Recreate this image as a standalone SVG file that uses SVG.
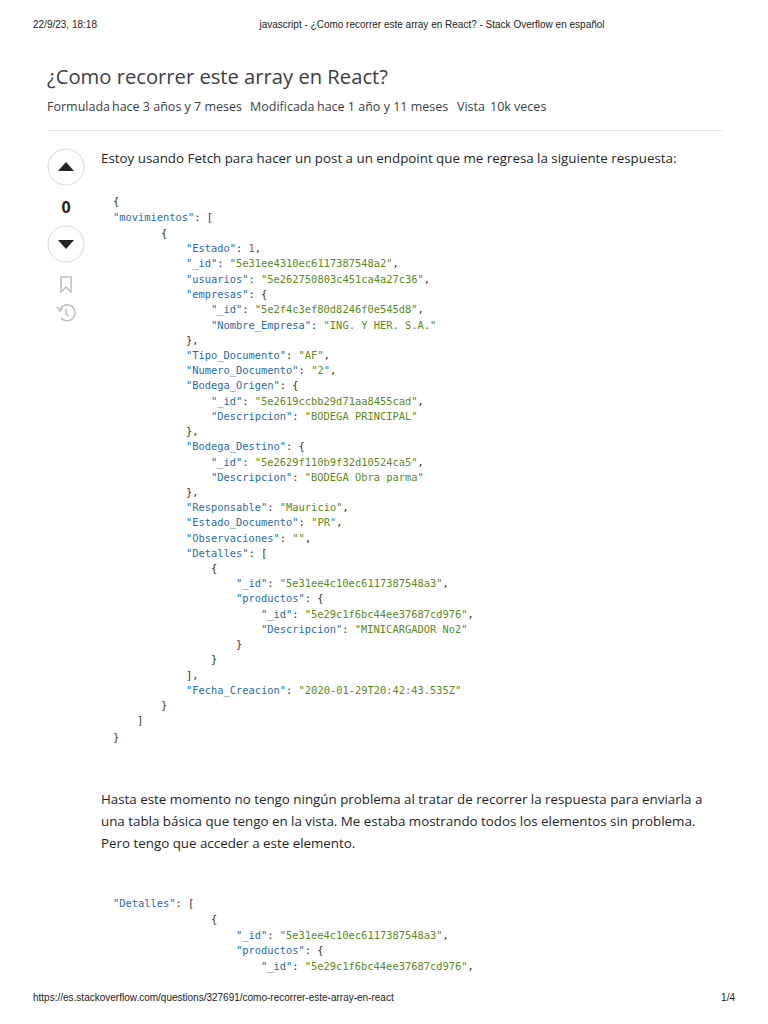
<svg xmlns="http://www.w3.org/2000/svg" width="768" height="1024" viewBox="0 0 768 1024">
<style>
.h{font-family:"Liberation Sans",Arial,sans-serif;font-size:10px;fill:#222}
.t{font-family:"Open Sans","Noto Sans",sans-serif;font-size:20.2px;fill:#3b4045}
.m{font-family:"Open Sans","Noto Sans",sans-serif;font-size:12.5px;fill:#3b4045}
.b{font-family:"Open Sans","Noto Sans",sans-serif;font-size:13.35px;fill:#232629}
.c{font-family:"DejaVu Sans Mono",monospace;font-size:10.4px;fill:#2f3337}
.k{fill:#2b6ba8}.s{fill:#5a8a1c}.n{fill:#b4501e}
.vb{fill:#fff;stroke:#d6d9dc}
.ic{fill:none;stroke:#babfc4;stroke-width:1.5}
</style>
<rect width="768" height="1024" fill="#fff"/>
<text class="h" x="33" y="28">22/9/23, 18:18</text>
<text class="h" x="432" y="28" text-anchor="middle">javascript - ¿Como recorrer este array en React? - Stack Overflow en español</text>
<text class="t" x="47" y="84">¿Como recorrer este array en React?</text>
<g class="m">
<text x="47" y="111">Formulada</text>
<text x="112" y="111">hace 3 años y 7 meses</text>
<text x="250" y="111">Modificada</text>
<text x="317" y="111">hace 1 año y 11 meses</text>
<text x="457" y="111">Vista</text>
<text x="490" y="111">10k veces</text>
</g>
<line x1="47" y1="130.5" x2="722" y2="130.5" stroke="#e3e6e8"/>
<g id="vote">
<circle class="vb" cx="66" cy="167" r="18"/>
<path d="M58 171 L66 162 L74 171 Z" fill="#232629"/>
<text x="66" y="213" text-anchor="middle" font-family="Open Sans,Noto Sans,sans-serif" font-size="16" font-weight="bold" fill="#232629">0</text>
<circle class="vb" cx="66" cy="244" r="18"/>
<path d="M58 240 L66 249 L74 240 Z" fill="#232629"/>
<path class="ic" d="M61 277 V292 L66 287 L71 292 V277 Z"/>
<path class="ic" d="M60 309 A8 8 0 1 1 61 318 M57 307 L60 311 L63 308 M66 309 V314 L69 316"/>
</g>
<text class="b" x="101" y="163">Estoy usando Fetch para hacer un post a un endpoint que me regresa la siguiente respuesta:</text>
<g class="c">
<text x="113" y="205">{</text>
<text x="113" y="221"><tspan class="k">"movimientos"</tspan>: [</text>
<text x="161" y="237">{</text>
<text x="186" y="252"><tspan class="k">"Estado"</tspan>: <tspan class="n">1</tspan>,</text>
<text x="186" y="267"><tspan class="k">"_id"</tspan>: <tspan class="s">"5e31ee4310ec6117387548a2"</tspan>,</text>
<text x="186" y="283"><tspan class="k">"usuarios"</tspan>: <tspan class="s">"5e262750803c451ca4a27c36"</tspan>,</text>
<text x="186" y="298"><tspan class="k">"empresas"</tspan>: {</text>
<text x="211" y="313"><tspan class="k">"_id"</tspan>: <tspan class="s">"5e2f4c3ef80d8246f0e545d8"</tspan>,</text>
<text x="211" y="329"><tspan class="k">"Nombre_Empresa"</tspan>: <tspan class="s">"ING. Y HER. S.A."</tspan></text>
<text x="186" y="344">},</text>
<text x="186" y="359"><tspan class="k">"Tipo_Documento"</tspan>: <tspan class="s">"AF"</tspan>,</text>
<text x="186" y="374"><tspan class="k">"Numero_Documento"</tspan>: <tspan class="s">"2"</tspan>,</text>
<text x="186" y="389"><tspan class="k">"Bodega_Origen"</tspan>: {</text>
<text x="211" y="405"><tspan class="k">"_id"</tspan>: <tspan class="s">"5e2619ccbb29d71aa8455cad"</tspan>,</text>
<text x="211" y="420"><tspan class="k">"Descripcion"</tspan>: <tspan class="s">"BODEGA PRINCIPAL"</tspan></text>
<text x="186" y="435">},</text>
<text x="186" y="450"><tspan class="k">"Bodega_Destino"</tspan>: {</text>
<text x="211" y="466"><tspan class="k">"_id"</tspan>: <tspan class="s">"5e2629f110b9f32d10524ca5"</tspan>,</text>
<text x="211" y="481"><tspan class="k">"Descripcion"</tspan>: <tspan class="s">"BODEGA Obra parma"</tspan></text>
<text x="186" y="496">},</text>
<text x="186" y="511"><tspan class="k">"Responsable"</tspan>: <tspan class="s">"Mauricio"</tspan>,</text>
<text x="186" y="526"><tspan class="k">"Estado_Documento"</tspan>: <tspan class="s">"PR"</tspan>,</text>
<text x="186" y="542"><tspan class="k">"Observaciones"</tspan>: <tspan class="s">""</tspan>,</text>
<text x="186" y="557"><tspan class="k">"Detalles"</tspan>: [</text>
<text x="211" y="572">{</text>
<text x="236" y="587"><tspan class="k">"_id"</tspan>: <tspan class="s">"5e31ee4c10ec6117387548a3"</tspan>,</text>
<text x="236" y="602"><tspan class="k">"productos"</tspan>: {</text>
<text x="261" y="618"><tspan class="k">"_id"</tspan>: <tspan class="s">"5e29c1f6bc44ee37687cd976"</tspan>,</text>
<text x="261" y="633"><tspan class="k">"Descripcion"</tspan>: <tspan class="s">"MINICARGADOR No2"</tspan></text>
<text x="236" y="648">}</text>
<text x="211" y="663">}</text>
<text x="186" y="679">],</text>
<text x="186" y="694"><tspan class="k">"Fecha_Creacion"</tspan>: <tspan class="s">"2020-01-29T20:42:43.535Z"</tspan></text>
<text x="161" y="709">}</text>
<text x="137" y="724">]</text>
<text x="113" y="741">}</text>
</g>
<text class="b" x="101" y="804">Hasta este momento no tengo ningún problema al tratar de recorrer la respuesta para enviarla a</text>
<text class="b" x="101" y="826">una tabla básica que tengo en la vista. Me estaba mostrando todos los elementos sin problema.</text>
<text class="b" x="101" y="848">Pero tengo que acceder a este elemento.</text>
<g class="c">
<text x="113" y="907"><tspan class="k">"Detalles"</tspan>: [</text>
<text x="211" y="923">{</text>
<text x="236" y="939"><tspan class="k">"_id"</tspan>: <tspan class="s">"5e31ee4c10ec6117387548a3"</tspan>,</text>
<text x="236" y="954"><tspan class="k">"productos"</tspan>: {</text>
<text x="261" y="970"><tspan class="k">"_id"</tspan>: <tspan class="s">"5e29c1f6bc44ee37687cd976"</tspan>,</text>
</g>
<text class="h" x="33" y="1001">https://es.stackoverflow.com/questions/327691/como-recorrer-este-array-en-react</text>
<text class="h" x="735" y="1001" text-anchor="end">1/4</text>
</svg>
